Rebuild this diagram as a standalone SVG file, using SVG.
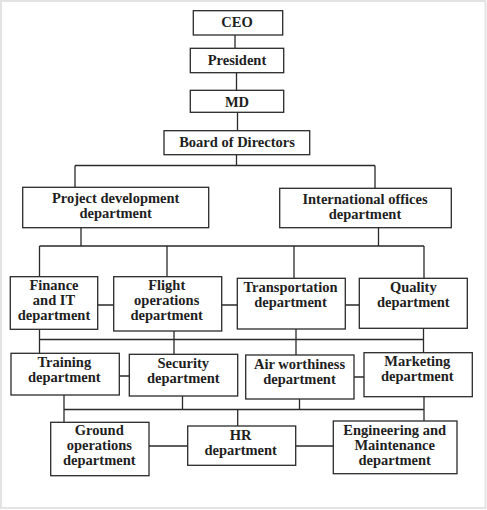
<svg xmlns="http://www.w3.org/2000/svg" width="487" height="510" viewBox="0 0 487 510">
<style>
.frame{fill:#ffffff;stroke:#e3e3e3;stroke-width:2}
.box{fill:#ffffff;stroke:#2a2a2a;stroke-width:1.3}
.wire{fill:none;stroke:#2a2a2a;stroke-width:1.3}
text{font-family:"Liberation Serif","DejaVu Serif",serif;font-weight:bold;font-size:14.5px;fill:#1e1e1e;text-anchor:middle}
</style>
<rect class="frame" x="1" y="1" width="484.5" height="507"/>
<g id="connectors">
<path class="wire" d="M235,35V48.5 M236.5,72.5V90.5 M237.5,112.5V131 M236.5,155V165.5 M75,165.5H375 M75,165.5V187.5 M375,165.5V188.5"/>
<path class="wire" d="M81,227.5V246 M378.5,227.5V246 M39.5,246H424 M39.5,246V277 M167,246V277 M294,246V278.5 M424,246V278.5"/>
<path class="wire" d="M97.5,305H113.7 M221.7,305H237.3 M345.3,305H359.3"/>
<path class="wire" d="M39.5,329.5V353.5 M174,331V354.5 M296,329V355 M423.5,328.5V353 M39.5,339.5H423.5"/>
<path class="wire" d="M119.3,376H129.3 M354,377H364"/>
<path class="wire" d="M64,395V422.5 M182.5,396V409.5 M299.5,399V409.5 M424,396.7V421 M64,409.5H424 M237.7,409.5V426"/>
<path class="wire" d="M149,446H187.7 M295.7,446H333.3"/>
</g>
<g id="ceo"><rect class="box" x="193.3" y="10.7" width="89.4" height="24.3"/><text x="237" y="27">CEO</text></g>
<g id="president"><rect class="box" x="190.3" y="48.3" width="93.4" height="24.4"/><text x="237" y="64.5">President</text></g>
<g id="md"><rect class="box" x="190.3" y="90.3" width="93.4" height="22"/><text x="237" y="106.5">MD</text></g>
<g id="board"><rect class="box" x="164" y="130.7" width="145.7" height="24"/><text x="237" y="147">Board of Directors</text></g>
<g id="project"><rect class="box" x="22.7" y="187.3" width="186" height="40.4"/><text x="115.7" y="202.5">Project development</text><text x="115.7" y="217.5">department</text></g>
<g id="international"><rect class="box" x="279.7" y="188.3" width="171.6" height="39.4"/><text x="365" y="203.7">International offices</text><text x="365" y="218.7">department</text></g>
<g id="finance"><rect class="box" x="10.3" y="276.7" width="87.4" height="52.6"/><text x="54" y="289.5">Finance</text><text x="54" y="304.5">and IT</text><text x="54" y="319.5">department</text></g>
<g id="flight"><rect class="box" x="113.7" y="276.7" width="108" height="54.3"/><text x="166.7" y="289.8">Flight</text><text x="166.7" y="304.8">operations</text><text x="166.7" y="319.8">department</text></g>
<g id="transportation"><rect class="box" x="237.3" y="278.3" width="108" height="50.7"/><text x="290.5" y="291.5">Transportation</text><text x="290.5" y="306.5">department</text></g>
<g id="quality"><rect class="box" x="359.3" y="278.3" width="108" height="50"/><text x="413.3" y="292">Quality</text><text x="413.3" y="307">department</text></g>
<g id="training"><rect class="box" x="11" y="353.3" width="108.3" height="41.7"/><text x="64.3" y="367">Training</text><text x="64.3" y="382">department</text></g>
<g id="security"><rect class="box" x="129.3" y="354.3" width="108.4" height="41.7"/><text x="183.3" y="368.3">Security</text><text x="183.3" y="383.3">department</text></g>
<g id="airworthiness"><rect class="box" x="245.7" y="355" width="108.3" height="44"/><text x="299.5" y="369">Air worthiness</text><text x="299.5" y="384">department</text></g>
<g id="marketing"><rect class="box" x="364" y="352.7" width="108.3" height="44"/><text x="417.3" y="366.3">Marketing</text><text x="417.3" y="381.3">department</text></g>
<g id="ground"><rect class="box" x="50.7" y="422.3" width="98.3" height="53.4"/><text x="99.3" y="435">Ground</text><text x="99.3" y="450">operations</text><text x="99.3" y="465">department</text></g>
<g id="hr"><rect class="box" x="187.7" y="426" width="108" height="39.3"/><text x="240.7" y="439.5">HR</text><text x="240.7" y="454.5">department</text></g>
<g id="engineering"><rect class="box" x="333.3" y="421" width="123.7" height="52.7"/><text x="394.7" y="435">Engineering and</text><text x="394.7" y="450">Maintenance</text><text x="394.7" y="465">department</text></g>
</svg>
